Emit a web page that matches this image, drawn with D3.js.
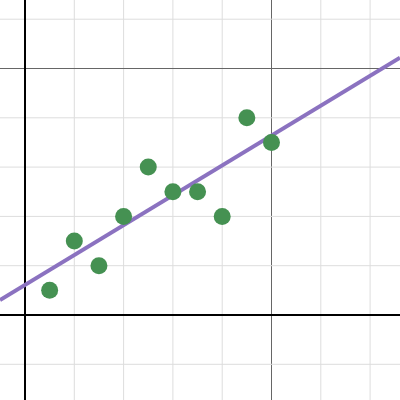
<!DOCTYPE html>
<html lang="en">
<head>
  <meta charset="UTF-8">
  <script src="https://d3js.org/d3.v7.min.js"></script>
  <style>
    body { margin: 0; background: white; }
  </style>
</head>
<body>
<svg id="svg"></svg>
<script>
// data
const xs = [0.5, 1, 1.5, 2, 2.5, 3, 3.5, 4, 4.5, 5];
const ys = [0.5, 1.5, 1, 2, 3, 2.5, 2.5, 2, 4, 3.5];
const slope = 0.606;
const intercept = 0.61;
const gridX = d3.range(-1, 9);
const gridY = d3.range(-2, 8);

const size = 400;
const unit = 49.3;
const x = d3.scaleLinear().domain([0, 1]).range([25, 25 + unit]);
const y = d3.scaleLinear().domain([0, 1]).range([315, 315 - unit]);

const svg = d3.select("#svg").attr("width", size).attr("height", size);

// minor + major grid
svg.selectAll(".gx").data(gridX.filter(d => d != 0)).join("line")
  .attr("x1", d => x(d)).attr("x2", d => x(d))
  .attr("y1", 0).attr("y2", size)
  .attr("stroke", d => d % 5 == 0 ? "#666" : "#ddd")
  .attr("stroke-width", 1);
svg.selectAll(".gy").data(gridY.filter(d => d != 0)).join("line")
  .attr("y1", d => y(d)).attr("y2", d => y(d))
  .attr("x1", 0).attr("x2", size)
  .attr("stroke", d => d % 5 == 0 ? "#666" : "#ddd")
  .attr("stroke-width", 1);

// axes
svg.append("line").attr("x1", x(0)).attr("x2", x(0)).attr("y1", 0).attr("y2", size)
  .attr("stroke", "black").attr("stroke-width", 2);
svg.append("line").attr("y1", y(0)).attr("y2", y(0)).attr("x1", 0).attr("x2", size)
  .attr("stroke", "black").attr("stroke-width", 2);

// regression line
const x0 = x.invert(0), x1 = x.invert(size);
svg.append("line")
  .attr("x1", x(x0)).attr("y1", y(intercept + slope * x0))
  .attr("x2", x(x1)).attr("y2", y(intercept + slope * x1))
  .attr("stroke", "#8b72c0").attr("stroke-width", 4);

// points
svg.selectAll(".pt").data(xs).join("circle")
  .attr("cx", d => x(d))
  .attr("cy", (d, i) => y(ys[i]))
  .attr("r", 8.5)
  .attr("fill", "#459152");
</script>
</body>
</html>
